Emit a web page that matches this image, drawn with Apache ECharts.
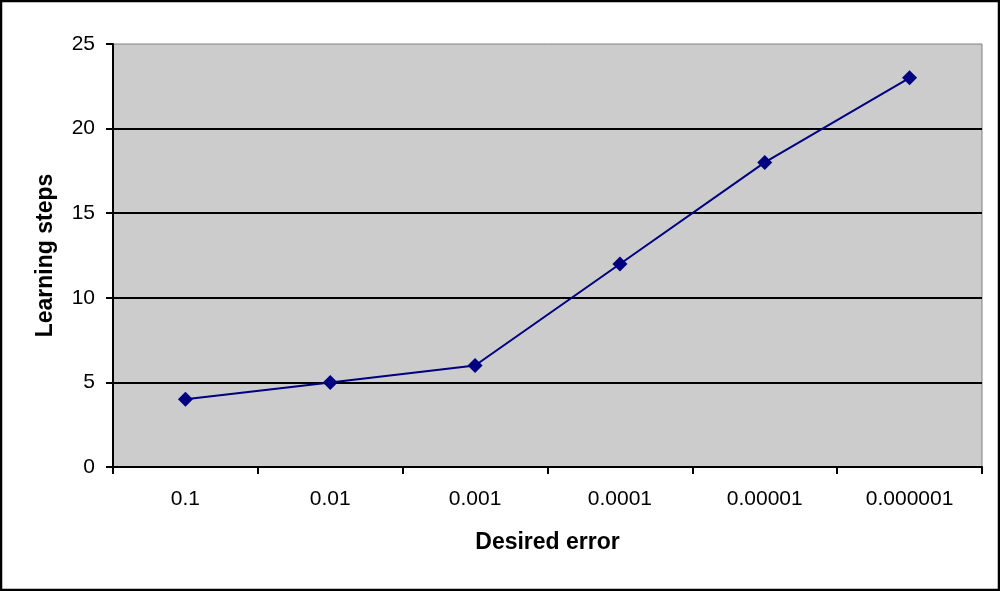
<!DOCTYPE html>
<html><head><meta charset="utf-8">
<script src="https://cdn.jsdelivr.net/npm/echarts@6/dist/echarts.min.js"></script>
<style>html,body{margin:0;padding:0;background:#fff}#c{width:1000px;height:591px}</style>
</head><body><div id="c"></div>
<script>
var categories = ['0.1','0.01','0.001','0.0001','0.00001','0.000001'];
var steps = [4,5,6,12,18,23];
var yTicks = {min:0,max:25,interval:5};
var chart = echarts.init(document.getElementById('c'));
var font = 'Liberation Sans, Arial, sans-serif';
chart.setOption({
  animation:false,
  backgroundColor:'#ffffff',
  graphic:[{type:'rect',shape:{x:1,y:1,width:998,height:589},style:{fill:'none',stroke:'#000',lineWidth:2.5},z:100}],
  grid:{left:113,top:44,right:18,bottom:124,show:true,backgroundColor:'#cccccc',borderColor:'#808080',borderWidth:1},
  xAxis:{type:'category',data:categories,boundaryGap:true,
    name:'Desired error',nameLocation:'middle',nameGap:64,
    nameTextStyle:{fontFamily:font,fontSize:23,fontWeight:'bold',color:'#000'},
    axisLine:{lineStyle:{color:'#000',width:2}},
    axisTick:{show:true,interval:0,length:7,lineStyle:{color:'#000',width:2}},
    axisLabel:{interval:0,margin:22,fontFamily:font,fontSize:21,color:'#000'},
    splitLine:{show:false}},
  yAxis:{type:'value',min:yTicks.min,max:yTicks.max,interval:yTicks.interval,
    name:'Learning steps',nameLocation:'middle',nameGap:56,nameRotate:90,
    nameTextStyle:{fontFamily:font,fontSize:23,fontWeight:'bold',color:'#000'},
    axisLine:{show:true,lineStyle:{color:'#000',width:2}},
    axisTick:{show:true,length:7,lineStyle:{color:'#000',width:2}},
    axisLabel:{margin:18,fontFamily:font,fontSize:21,color:'#000'},
    splitLine:{show:true,showMaxLine:false,lineStyle:{color:'#000',width:2}}},
  series:[{type:'line',data:steps,symbol:'diamond',symbolSize:15,
    lineStyle:{color:'#000080',width:2},itemStyle:{color:'#000080'}}]
});
</script></body></html>
